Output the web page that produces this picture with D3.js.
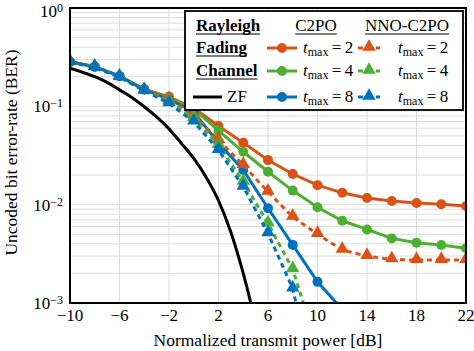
<!DOCTYPE html>
<html>
<head>
<meta charset="utf-8">
<script src="https://cdn.jsdelivr.net/npm/d3@7"></script>
<style>
  body { margin: 0; background: #fff; }
  svg { display: block; font-family: "Liberation Serif", "DejaVu Serif", serif; }
</style>
</head>
<body>
<div id="chart"></div>
<script>
// transmit power grid [dB]
const powerDb = [-10, -8, -6, -4, -2, 0, 2, 4, 6, 8, 10, 12, 14, 16, 18, 20, 22];

// C2PO (solid, circles)
const c2poT2 = [0.284, 0.253, 0.203, 0.149, 0.125, 0.096, 0.063, 0.0427, 0.0284, 0.0205, 0.0158, 0.0132, 0.0117, 0.0109, 0.0104, 0.0101, 0.0097];
const c2poT4 = [0.284, 0.253, 0.203, 0.149, 0.122, 0.094, 0.0565, 0.0345, 0.0216, 0.0139, 0.0094, 0.00686, 0.0056, 0.00454, 0.0041, 0.00389, 0.0036];
const c2poT8 = [0.284, 0.253, 0.203, 0.148, 0.118, 0.0875, 0.0423, 0.0225, 0.0092, 0.0039, 0.00164, 0.00086];

// NNO-C2PO (dashed, triangles)
const nnoT2 = [0.282, 0.251, 0.2, 0.146, 0.118, 0.081, 0.0454, 0.0253, 0.0135, 0.0075, 0.00502, 0.00346, 0.003, 0.00277, 0.00273, 0.00273, 0.00273];
const nnoT4 = [0.282, 0.25, 0.199, 0.145, 0.112, 0.076, 0.0404, 0.0171, 0.00645, 0.0022, 0.00035];
const nnoT8 = [0.281, 0.249, 0.198, 0.144, 0.107, 0.0697, 0.0359, 0.0152, 0.0051, 0.0014, 0.0001];

// ZF baseline (no markers)
const zfDb = [-10, -9, -8, -7, -6, -5, -4, -3, -2, -1, 0, 1, 2, 3, 4, 5];
const zfBer = [0.244, 0.222, 0.2, 0.175, 0.147, 0.123, 0.099, 0.078, 0.059, 0.042, 0.0295, 0.019, 0.011, 0.00525, 0.002, 0.00063];

const xTicks = [-10, -6, -2, 2, 6, 10, 14, 18, 22];
const yTickExp = [0, -1, -2, -3];

const orange = "#D95319", green = "#4DAF32", blue = "#0072BD";

const series = [
    {name: "C2PO", t: 2, values: c2poT2, color: orange, dashed: false},
    {name: "C2PO", t: 4, values: c2poT4, color: green, dashed: false},
    {name: "C2PO", t: 8, values: c2poT8, color: blue, dashed: false},
    {name: "NNO-C2PO", t: 2, values: nnoT2, color: orange, dashed: true},
    {name: "NNO-C2PO", t: 4, values: nnoT4, color: green, dashed: true},
    {name: "NNO-C2PO", t: 8, values: nnoT8, color: blue, dashed: true}
];

const W = 474, H = 351;
const margin = {top: 8, right: 8, bottom: 48, left: 70};
const width = W - margin.left - margin.right;
const height = H - margin.top - margin.bottom;

const svg = d3.select("#chart").append("svg")
    .attr("width", W)
    .attr("height", H);

const g = svg.append("g")
    .attr("transform", `translate(${margin.left},${margin.top})`);

const x = d3.scaleLinear().domain([-10, 22]).range([0, width]);
const y = d3.scaleLog().domain([1e-3, 1]).range([height, 0]);

// grid
const gridY = [];
for (let e = -3; e < 0; e++) {
    for (let m = 1; m <= 9; m++) gridY.push(m * Math.pow(10, e));
}
g.append("g").selectAll("line")
    .data(gridY.filter(v => v > 1e-3))
    .join("line")
    .attr("x1", 0).attr("x2", width)
    .attr("y1", d => y(d)).attr("y2", d => y(d))
    .attr("stroke", "#dcdcdc").attr("stroke-width", 1);
g.append("g").selectAll("line")
    .data(xTicks.slice(1, -1))
    .join("line")
    .attr("x1", d => x(d)).attr("x2", d => x(d))
    .attr("y1", 0).attr("y2", height)
    .attr("stroke", "#dcdcdc").attr("stroke-width", 1);

// clip
svg.append("defs").append("clipPath").attr("id", "clip")
    .append("rect").attr("width", width).attr("height", height);

const plot = g.append("g").attr("clip-path", "url(#clip)");

// ZF
plot.append("path")
    .datum(zfDb.map((d, i) => [d, zfBer[i]]))
    .attr("fill", "none")
    .attr("stroke", "#000")
    .attr("stroke-width", 3)
    .attr("d", d3.line().x(d => x(d[0])).y(d => y(d[1])).curve(d3.curveMonotoneX));

const line = d3.line().x(d => x(d[0])).y(d => y(d[1]));
const tri = d3.symbol().type(d3.symbolTriangle).size(78);

// draw order: C2PO t2, t4, t8 then NNO
series.forEach(s => {
    const pts = s.values.map((v, i) => [powerDb[i], v]);
    plot.append("path")
        .datum(pts)
        .attr("fill", "none")
        .attr("stroke", s.color)
        .attr("stroke-width", 3)
        .attr("stroke-dasharray", s.dashed ? "5,4" : null)
        .attr("d", line);
    if (s.dashed) {
        plot.append("g").selectAll("path")
            .data(pts)
            .join("path")
            .attr("d", tri)
            .attr("transform", d => `translate(${x(d[0])},${y(d[1]) - 1})`)
            .attr("fill", s.color);
    } else {
        plot.append("g").selectAll("circle")
            .data(pts)
            .join("circle")
            .attr("cx", d => x(d[0]))
            .attr("cy", d => y(d[1]))
            .attr("r", 5)
            .attr("fill", s.color);
    }
});

// frame
g.append("rect")
    .attr("width", width).attr("height", height)
    .attr("fill", "none").attr("stroke", "#000").attr("stroke-width", 2);

// x tick labels
g.append("g").selectAll("text")
    .data(xTicks)
    .join("text")
    .attr("x", d => x(d))
    .attr("y", height + 18)
    .attr("text-anchor", "middle")
    .attr("font-size", 17)
    .text(d => d3.format("")(d));

// y tick labels 10^e
const yl = g.append("g").selectAll("text")
    .data(yTickExp)
    .join("text")
    .attr("x", -7)
    .attr("y", d => Math.max(y(Math.pow(10, d)) + 6, 9))
    .attr("text-anchor", "end")
    .attr("font-size", 17);
yl.append("tspan").text("10");
yl.append("tspan")
    .attr("dy", -5)
    .attr("font-size", 12)
    .text(d => d === 0 ? "0" : "\u2212" + (-d));

// axis labels
svg.append("text")
    .attr("x", margin.left + width / 2)
    .attr("y", H - 5)
    .attr("text-anchor", "middle")
    .attr("font-size", 17.5)
    .text("Normalized transmit power [dB]");

svg.append("text")
    .attr("transform", `translate(17,${margin.top + height / 2 - 3}) rotate(-90)`)
    .attr("text-anchor", "middle")
    .attr("font-size", 17.5)
    .text("Uncoded bit error-rate (BER)");

// legend
const lg = svg.append("g");
lg.append("rect")
    .attr("x", 185).attr("y", 11)
    .attr("width", 278).attr("height", 99)
    .attr("fill", "#fff").attr("stroke", "#000").attr("stroke-width", 1.8);

function underlined(txt, xPos, yPos, anchor, bold) {
    const t = lg.append("text")
        .attr("x", xPos).attr("y", yPos)
        .attr("text-anchor", anchor)
        .attr("font-size", 17)
        .attr("font-weight", bold ? "bold" : null)
        .text(txt);
    const len = t.node().getComputedTextLength();
    const x0 = anchor === "middle" ? xPos - len / 2 : xPos;
    lg.append("line")
        .attr("x1", x0).attr("x2", x0 + len)
        .attr("y1", yPos + 3).attr("y2", yPos + 3)
        .attr("stroke", "#000").attr("stroke-width", 1.2);
}

const rowY = [26, 48, 71, 97];
underlined("Rayleigh", 196, rowY[0] + 5, "start", true);
underlined("Fading", 196, rowY[1] + 5, "start", true);
underlined("Channel", 196, rowY[2] + 5, "start", true);
underlined("C2PO", 316, rowY[0] + 5, "middle", false);
underlined("NNO-C2PO", 407, rowY[0] + 5, "middle", false);

lg.append("line")
    .attr("x1", 193).attr("x2", 222)
    .attr("y1", rowY[3]).attr("y2", rowY[3])
    .attr("stroke", "#000").attr("stroke-width", 3);
lg.append("text")
    .attr("x", 227).attr("y", rowY[3] + 5)
    .attr("font-size", 17)
    .text("ZF");

series.forEach((s, i) => {
    const row = rowY[(i % 3) + 1];
    const x0 = s.dashed ? 358 : 267;
    const x1 = s.dashed ? 380 : 297;
    const tx = s.dashed ? 398 : 303;
    lg.append("line")
        .attr("x1", x0).attr("x2", x1)
        .attr("y1", row).attr("y2", row)
        .attr("stroke", s.color).attr("stroke-width", 3)
        .attr("stroke-dasharray", s.dashed ? "5,4" : null);
    if (s.dashed) {
        lg.append("path").attr("d", tri)
            .attr("transform", `translate(${(x0 + x1) / 2},${row - 1})`)
            .attr("fill", s.color);
    } else {
        lg.append("circle")
            .attr("cx", (x0 + x1) / 2).attr("cy", row).attr("r", 5)
            .attr("fill", s.color);
    }
    const t = lg.append("text")
        .attr("x", tx).attr("y", row + 5)
        .attr("font-size", 17);
    t.append("tspan").attr("font-style", "italic").text("t");
    t.append("tspan").attr("font-size", 12).attr("dy", 3).text("max");
    t.append("tspan").attr("dy", -3).text("\u2009=\u2009" + s.t);
});
</script>
</body>
</html>
